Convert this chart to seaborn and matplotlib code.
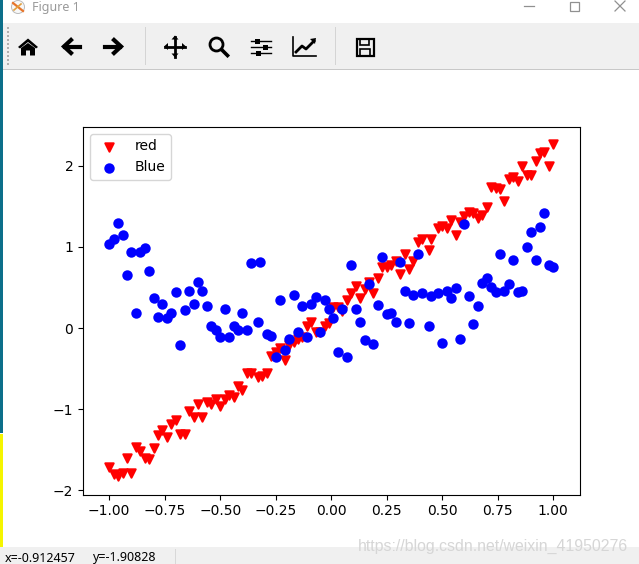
import matplotlib
matplotlib.use("Agg")
import matplotlib.pyplot as plt
from matplotlib.patches import Rectangle, Polygon, Circle
from matplotlib.lines import Line2D
import numpy as np
import pandas as pd
import seaborn as sns

red_x = [-1.00,-0.98,-0.96,-0.94,-0.92,-0.90,-0.88,-0.86,-0.84,-0.82,-0.80,-0.78,-0.76,-0.74,-0.72,-0.70,-0.68,-0.66,-0.64,-0.62,
         -0.60,-0.58,-0.56,-0.54,-0.52,-0.50,-0.48,-0.46,-0.44,-0.42,-0.40,-0.38,-0.36,-0.33,-0.31,-0.29,-0.27,-0.25,-0.23,-0.21,
         -0.19,-0.17,-0.15,-0.13,-0.11,-0.09,-0.07,-0.05,-0.03,-0.01,0.01,0.03,0.05,0.07,0.09,0.11,0.13,0.15,0.17,0.19,
         0.21,0.23,0.25,0.27,0.29,0.31,0.33,0.35,0.37,0.39,0.41,0.44,0.45,0.48,0.50,0.52,0.54,0.56,0.58,0.60,
         0.62,0.64,0.66,0.68,0.70,0.72,0.74,0.76,0.78,0.80,0.82,0.84,0.86,0.88,0.90,0.92,0.94,0.96,0.98,1.00]
red_y = [-1.71,-1.80,-1.82,-1.78,-1.60,-1.78,-1.46,-1.51,-1.60,-1.61,-1.48,-1.32,-1.25,-1.34,-1.18,-1.13,-1.31,-1.30,-1.02,-1.09,
         -0.94,-1.10,-0.91,-0.94,-0.87,-0.96,-0.87,-0.83,-0.85,-0.72,-0.76,-0.56,-0.56,-0.60,-0.59,-0.55,-0.34,-0.30,-0.24,-0.39,
         -0.21,-0.17,-0.13,-0.11,0.02,0.08,-0.05,-0.05,0.03,0.06,0.26,0.26,0.21,0.35,0.43,0.52,0.37,0.48,0.57,0.43,
         0.62,0.75,0.75,0.78,0.83,0.66,0.91,0.73,0.83,1.06,1.10,0.96,1.09,1.23,1.25,1.23,1.33,1.15,1.31,1.38,
         1.43,1.41,1.36,1.39,1.49,1.74,1.73,1.71,1.57,1.84,1.86,1.81,2.00,1.88,1.88,2.06,2.16,2.17,2.00,2.26]

blue_x = [-1.00,-0.98,-0.96,-0.94,-0.92,-0.90,-0.88,-0.86,-0.84,-0.82,-0.80,-0.78,-0.76,-0.74,-0.72,-0.70,-0.68,-0.66,-0.64,-0.62,
          -0.60,-0.58,-0.56,-0.54,-0.52,-0.50,-0.48,-0.46,-0.44,-0.42,-0.40,-0.38,-0.36,-0.33,-0.32,-0.29,-0.27,-0.25,-0.23,-0.21,
          -0.19,-0.17,-0.15,-0.13,-0.11,-0.09,-0.07,-0.05,-0.03,-0.01,0.01,0.03,0.05,0.07,0.09,0.11,0.13,0.15,0.17,0.19,
          0.21,0.23,0.25,0.27,0.29,0.31,0.33,0.35,0.37,0.39,0.41,0.44,0.45,0.48,0.50,0.52,0.54,0.56,0.58,0.60,
          0.62,0.64,0.66,0.68,0.70,0.72,0.74,0.76,0.78,0.80,0.82,0.84,0.86,0.88,0.90,0.92,0.94,0.96,0.98,1.00]
blue_y = [1.04,1.09,1.29,1.15,0.65,0.94,0.19,0.93,0.99,0.70,0.37,0.13,0.30,0.12,0.18,0.44,-0.21,0.22,0.46,0.30,
          0.57,0.46,0.27,0.02,-0.03,-0.11,0.23,-0.11,0.02,-0.03,0.18,-0.03,0.80,0.07,0.81,-0.07,-0.10,-0.36,0.34,-0.27,
          -0.13,0.41,-0.05,0.27,-0.11,0.30,0.38,-0.05,0.35,0.24,0.12,-0.30,0.23,-0.36,0.77,0.24,0.08,-0.15,0.54,-0.20,
          0.28,0.88,0.17,0.18,0.07,0.81,0.45,0.06,0.41,0.91,0.43,0.02,0.39,0.43,-0.18,0.45,0.37,0.49,-0.13,1.28,
          0.40,0.05,0.27,0.56,0.62,0.50,0.44,0.91,0.46,0.54,0.84,0.44,0.45,1.00,1.18,0.84,1.24,1.42,0.77,0.75]
series_labels = ["red", "Blue"]
x_ticks = [-1.00,-0.75,-0.50,-0.25,0.00,0.25,0.50,0.75,1.00]
y_ticks = [-2,-1,0,1,2]

W, H = 639, 564
fig = plt.figure(figsize=(W/100, H/100), dpi=100, facecolor="white")
ax = fig.add_axes([83/W, 1-494.5/H, (579.5-83)/W, (494.5-127)/H])

red_df = pd.DataFrame({"x": red_x, "y": red_y})
blue_df = pd.DataFrame({"x": blue_x, "y": blue_y})
sns.scatterplot(data=red_df, x="x", y="y", ax=ax, marker="v", color="red",
                edgecolor="red", linewidth=1.5, s=36, label=series_labels[0], zorder=2)
sns.scatterplot(data=blue_df, x="x", y="y", ax=ax, marker="o", color="blue",
                edgecolor="blue", linewidth=1.5, s=36, label=series_labels[1], zorder=3)
ax.set_xlim(-1.118, 1.118)
ax.set_ylim(-2.05, 2.475)
ax.set_xticks(x_ticks)
ax.set_xticklabels([f"{v:.2f}".replace("-", "\u2212") for v in x_ticks])
ax.set_yticks(y_ticks)
ax.set_xlabel("")
ax.set_ylabel("")
ax.legend(loc="upper left")

# ---- window chrome of the screenshot, in pixel coordinates ----
chrome = fig.add_axes([0, 0, 1, 1], zorder=-1)
chrome.set_xlim(0, W)
chrome.set_ylim(H, 0)
chrome.axis("off")
over = fig.add_axes([0, 0, 1, 1], zorder=5)
over.set_xlim(0, W)
over.set_ylim(H, 0)
over.axis("off")
over.patch.set_alpha(0)

chrome.add_patch(Rectangle((0, 23), W, 46, fc="#f0f0f0", ec="none"))
chrome.add_patch(Rectangle((0, 69), W, 1, fc="#c8c8c8", ec="none"))
chrome.add_patch(Rectangle((0, 547), W, 17, fc="#f0f0f0", ec="none"))
chrome.add_patch(Rectangle((175, 549), 1, 15, fc="#d8d8d8", ec="none"))
chrome.add_patch(Rectangle((0, 0), 3, 433, fc="#0c6f8a", ec="none"))
chrome.add_patch(Rectangle((0, 434), 3, 113, fc="#f5f500", ec="none"))
for sx in (144.5, 334.5):
    chrome.add_patch(Rectangle((sx, 27), 1, 38, fc="#d4d4d4", ec="none"))
for gy in range(27, 65, 4):
    chrome.add_patch(Rectangle((7, gy), 2, 2, fc="#b0b0b0", ec="none"))

over.text(32, 7, "Figure 1", fontsize=9, color="#9a9a9a", va="center", family="Noto Sans")
over.add_patch(Circle((18, 7), 6.5, fc="#f8f8f8", ec="#bbbbbb", lw=0.7))
over.add_line(Line2D([13, 23], [3, 11], color="#e8752a", lw=1.6))
over.add_line(Line2D([14, 21], [10, 4], color="#e0a040", lw=1.2))
over.add_line(Line2D([524, 534], [6, 6], color="#909090", lw=0.9))
over.add_patch(Rectangle((569.5, 1.5), 9, 9, fc="none", ec="#909090", lw=0.9))
over.add_line(Line2D([615, 625], [1, 11], color="#909090", lw=0.9))
over.add_line(Line2D([615, 625], [11, 1], color="#909090", lw=0.9))

k = "black"
# home
over.add_patch(Polygon([[18, 47], [28, 38.5], [38, 47], [36, 48.5], [28, 42], [20, 48.5]], fc=k, ec="none"))
over.add_patch(Polygon([[21, 48], [28, 43], [35, 48], [35, 55.5], [30, 55.5], [30, 50.5], [26, 50.5], [26, 55.5], [21, 55.5]], fc=k, ec="none"))
# back / forward
over.add_line(Line2D([71, 64, 71], [40, 46.5, 53], color=k, lw=3.0, solid_joinstyle="miter"))
over.add_line(Line2D([65, 80], [46.5, 46.5], color=k, lw=3.0))
over.add_line(Line2D([114, 121, 114], [40, 46.5, 53], color=k, lw=3.0, solid_joinstyle="miter"))
over.add_line(Line2D([105, 120], [46.5, 46.5], color=k, lw=3.0))
# pan
over.add_line(Line2D([165, 185], [46.5, 46.5], color=k, lw=2.0))
over.add_line(Line2D([175, 175], [36.5, 56.5], color=k, lw=2.0))
for tri in ([[164, 46.5], [168, 43], [168, 50]], [[186, 46.5], [182, 43], [182, 50]],
            [[175, 35.5], [171.5, 39.5], [178.5, 39.5]], [[175, 57.5], [171.5, 53.5], [178.5, 53.5]]):
    over.add_patch(Polygon(tri, fc=k, ec="none"))
# zoom
over.add_patch(Circle((216.5, 44.5), 6.5, fc="none", ec=k, lw=2.0))
over.add_line(Line2D([221.5, 227.5], [49.5, 55.5], color=k, lw=2.6))
# sliders
for ly, hx in ((41, 257), (47, 265), (53, 258)):
    over.add_line(Line2D([251, 271], [ly, ly], color=k, lw=1.0))
    over.add_patch(Rectangle((hx - 2.5, ly - 2.5), 5, 5, fc=k, ec="none"))
# lines
over.add_line(Line2D([293, 293, 316], [37, 55.5, 55.5], color=k, lw=1.2))
over.add_line(Line2D([296, 302, 306, 314], [52, 46, 49, 41], color=k, lw=2.0))
over.add_patch(Polygon([[310, 39], [316, 38], [315, 44]], fc=k, ec="none"))
# save
over.add_patch(Rectangle((356.5, 38.5), 17, 17, fc="none", ec=k, lw=1.6))
over.add_patch(Rectangle((360, 38.5), 9, 6, fc="none", ec=k, lw=1.2))
over.add_patch(Rectangle((360, 49), 10, 6.5, fc="none", ec=k, lw=1.2))

over.text(5, 558, "x=-0.912457", fontsize=9, color="black", va="center", family="Noto Sans")
over.text(93, 558, "y=-1.90828", fontsize=9, color="black", va="center", family="Noto Sans")
over.text(358, 546, "https://blog.csdn.net/weixin_41950276", fontsize=11.4, color="#d6d6d6",
          va="center", family="Liberation Sans")

fig.savefig("out.png", dpi=100)
